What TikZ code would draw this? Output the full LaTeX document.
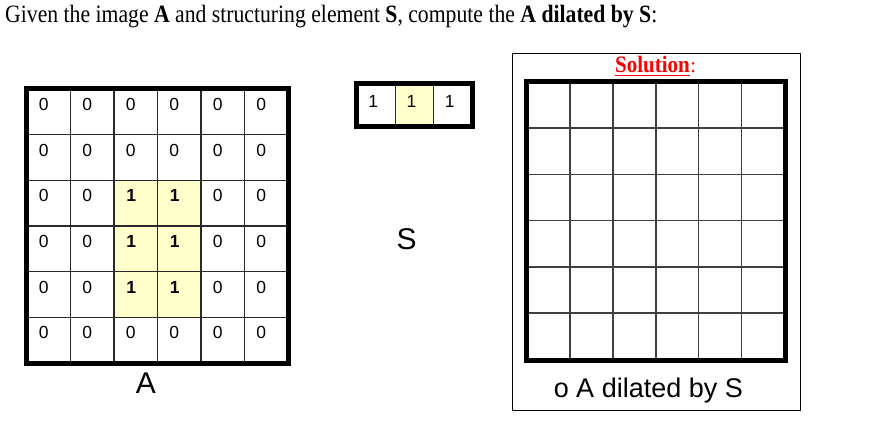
\documentclass[tikz,border=0pt]{standalone}
\usepackage{fontspec}
\setmainfont{Liberation Serif}
\setsansfont{Liberation Sans}
\definecolor{cellyellow}{HTML}{FFFFCC}
\definecolor{gridline}{HTML}{2A2A2A}
\begin{document}
\begin{tikzpicture}[x=1pt,y=-1pt,
  acell/.style={rectangle, draw=gridline, line width=1.5pt, minimum width=43.5pt, minimum height=45.67pt, inner sep=0pt},
  scell/.style={rectangle, draw=gridline, line width=1.5pt, minimum width=38.33pt, minimum height=42pt, inner sep=0pt},
  rcell/.style={rectangle, draw=black!75, line width=1.5pt, minimum width=42.83pt, minimum height=46.25pt, inner sep=0pt},
  digit/.style={font=\sffamily\fontsize{17.5}{17.5}\selectfont, inner sep=0pt, text=black},
  frame/.style={draw=black, line width=5pt},
  biglabel/.style={font=\sffamily\fontsize{30}{30}\selectfont, inner sep=0pt, anchor=base}
]
\useasboundingbox (0,0) rectangle (885,423);

% title
\node[anchor=base west, inner sep=0pt, font=\fontsize{21.7}{26}\selectfont] (title) at (5,22.7)
  {\scalebox{1}[1.15]{Given the image \textbf{A} and structuring element \textbf{S}, compute the \textbf{A dilated by S}:}};

% image A
\foreach \r in {1,...,6}{
  \foreach \c in {1,...,6}{
    \pgfmathtruncatemacro{\isone}{(\r>=3)&&(\r<=5)&&(\c>=3)&&(\c<=4)}
    \ifnum\isone=1
      \node[acell, fill=cellyellow] (a-\r-\c) at ({27+43.5*(\c-0.5)},{89+45.67*(\r-0.5)}) {};
      \node[digit, font=\sffamily\bfseries\fontsize{17.5}{17.5}\selectfont] (na-\r-\c) at ([xshift=-4.5pt,yshift=7.5pt]a-\r-\c.center) {1};
    \else
      \node[acell] (a-\r-\c) at ({27+43.5*(\c-0.5)},{89+45.67*(\r-0.5)}) {};
      \node[digit] (na-\r-\c) at ([xshift=-5pt,yshift=7.5pt]a-\r-\c.center) {0};
    \fi
  }
}
\draw[frame] (a-1-1.north west) rectangle (a-6-6.south east);
\node[biglabel] (labelA) at (145.8,393.3) {A};

% structuring element S
\node[scell] (s-1) at ({357+38.33*0.5},105) {};
\node[scell, fill=cellyellow] (s-2) at ({357+38.33*1.5},105) {};
\node[scell] (s-3) at ({357+38.33*2.5},105) {};
\node[digit] (ns-1) at ([xshift=-3pt,yshift=3.5pt]s-1.center) {1};
\node[digit] (ns-2) at ([xshift=-3pt,yshift=3.5pt]s-2.center) {1};
\node[digit] (ns-3) at ([xshift=-3pt,yshift=3.5pt]s-3.center) {1};
\draw[frame] (s-1.north west) rectangle (s-3.south east);
\node[biglabel] (labelS) at (406.7,249) {S};

% solution box
\node[draw=black, line width=1pt, minimum width=288pt, minimum height=357.5pt, inner sep=0pt] (solbox) at (656,231.75) {};
\node[anchor=base, inner sep=0pt, text=red, font=\bfseries\fontsize{21}{21}\selectfont] (soltext) at (652.5,72) {\scalebox{1}[1.12]{Solution}};
\node[anchor=base west, inner sep=0pt, text=red, font=\fontsize{21}{21}\selectfont] (solcolon) at (soltext.base east) {:};
\draw[red, line width=1.6pt] ([yshift=-3.6pt]soltext.base west) -- ([yshift=-3.6pt]soltext.base east);

\foreach \r in {1,...,6}{
  \foreach \c in {1,...,6}{
    \node[rcell] (r-\r-\c) at ({527.3+42.83*(\c-0.5)},{81.8+46.25*(\r-0.5)}) {};
  }
}
\draw[frame] (r-1-1.north west) rectangle (r-6-6.south east);
\node[anchor=base, inner sep=0pt, font=\sffamily\fontsize{27}{27}\selectfont] (caption) at (648.3,397.3) {o A dilated by S};
\end{tikzpicture}
\end{document}
